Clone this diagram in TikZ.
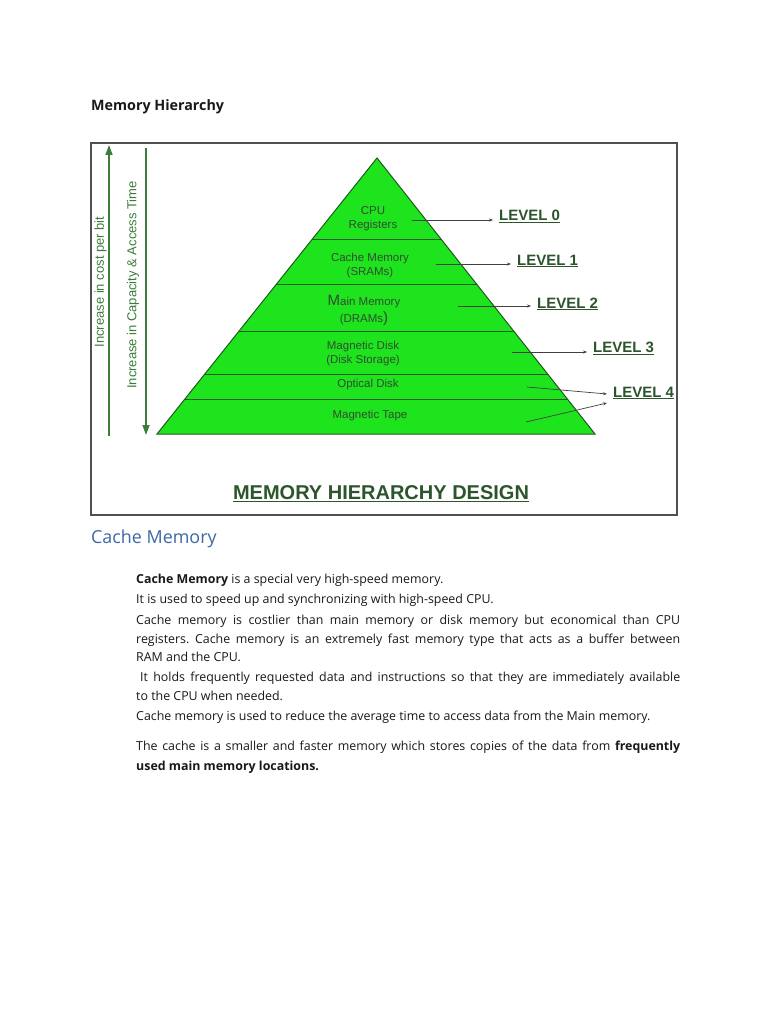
\documentclass[tikz,border=0pt]{standalone}
\usepackage{fontspec}
\setmainfont{Open Sans}
\newfontfamily\arialf{Liberation Sans}
\usetikzlibrary{arrows.meta}
\frenchspacing
\definecolor{pyrgreen}{RGB}{30,228,30}
\definecolor{pyredge}{RGB}{30,90,30}
\definecolor{lbltext}{RGB}{50,75,50}
\definecolor{lvlgreen}{RGB}{45,85,45}
\definecolor{axisgreen}{RGB}{60,125,60}
\definecolor{headblue}{RGB}{60,105,165}
\definecolor{framegray}{RGB}{80,80,80}
\definecolor{bodytext}{RGB}{25,25,25}
\tikzset{
  band/.style={font=\arialf\fontsize{11.5}{14}\selectfont, text=lbltext, align=center, inner sep=0pt},
  lvl/.style={font=\arialf\bfseries\fontsize{15}{18}\selectfont, text=lvlgreen, inner sep=0pt, anchor=west},
  lvlarrow/.style={draw=black!75, line width=0.7pt, -{Stealth[length=4pt,width=3pt]}},
  axisarrow/.style={draw=axisgreen, line width=1.5pt, -{Triangle[length=10pt,width=7pt]}},
  axislbl/.style={font=\arialf\fontsize{13}{15}\selectfont, text=axisgreen, rotate=90, inner sep=0pt},
  bodyline/.style={font=\fontsize{12.4}{15}\selectfont, text=bodytext, anchor=base west, inner sep=0pt},
}
\begin{document}
\begin{tikzpicture}[x=1pt,y=-1pt]
\useasboundingbox (0,0) rectangle (768,1024);
\fill[white] (0,0) rectangle (768,1024);

% heading
\node[font=\bfseries\fontsize{14.3}{17}\selectfont, text=bodytext, anchor=base west, inner sep=0pt] (head) at (91,111) {Memory Hierarchy};

% frame
\draw[framegray, line width=1.2pt] (91,143) rectangle (677,515);

% pyramid
\coordinate (apex) at (377,158);
\coordinate (bl) at (157,434);
\coordinate (br) at (595,434);
\fill[pyrgreen] (apex) -- (bl) -- (br) -- cycle;
\begin{scope}
\clip (apex) -- (bl) -- (br) -- cycle;
\foreach \yy in {239,284,331,374,399} {
  \draw[pyredge, line width=1pt] (150,\yy) -- (600,\yy);
}
\end{scope}
\draw[pyredge, line width=1pt, line join=miter] (apex) -- (bl) -- (br) -- cycle;

% band labels
\node[band] (cpu) at (373,219) {CPU\\Registers};
\node[band] (cache) at (370,266) {Cache Memory\\(SRAMs)};
\node[band, align=center] (main) at (364,310) {{\fontsize{15}{17}\selectfont M}ain Memory\\[3pt](DRAMs{\fontsize{15}{17}\selectfont )}};
\node[band] (disk) at (363,354) {Magnetic Disk\\(Disk Storage)};
\node[band] (optical) at (368,385) {Optical Disk};
\node[band] (tape) at (370,416) {Magnetic Tape};

% level labels
\node[lvl] (L0) at (499,216) {\underline{LEVEL 0}};
\node[lvl] (L1) at (517,261) {\underline{LEVEL 1}};
\node[lvl] (L2) at (537,304) {\underline{LEVEL 2}};
\node[lvl] (L3) at (593,348) {\underline{LEVEL 3}};
\node[lvl] (L4) at (613,393) {\underline{LEVEL 4}};

\coordinate (s0) at (412,220);
\coordinate (s1) at (436,264);
\coordinate (s2) at (458,306);
\coordinate (s3) at (512,352);
\coordinate (s4a) at (527,387);
\coordinate (s4b) at (526,422);
\coordinate (e4a) at (607,394);
\coordinate (e4b) at (607,403);
\draw[lvlarrow, shorten >=6pt] (s0) -- (L0.west |- s0);
\draw[lvlarrow, shorten >=6pt] (s1) -- (L1.west |- s1);
\draw[lvlarrow, shorten >=6pt] (s2) -- (L2.west |- s2);
\draw[lvlarrow, shorten >=6pt] (s3) -- (L3.west |- s3);
\draw[lvlarrow] (s4a) -- (e4a);
\draw[lvlarrow] (s4b) -- (e4b);

% axis arrows
\coordinate (upbot) at (109,436);
\coordinate (uptop) at (109,145);
\coordinate (dntop) at (146,148);
\coordinate (dnbot) at (146,435);
\draw[axisarrow] (upbot) -- (uptop);
\draw[axisarrow] (dntop) -- (dnbot);
\node[axislbl] (costlbl) at (100.5,282) {Increase in cost per bit};
\node[axislbl] (caplbl) at (133,285) {Increase in Capacity \& Access Time};

% title
\node[font=\arialf\bfseries\fontsize{20}{24}\selectfont, text=lvlgreen, inner sep=0pt] (title) at (381,494) {\underline{MEMORY HIERARCHY DESIGN}};

% Cache Memory section
\node[font=\fontsize{17.9}{21}\selectfont, text=headblue, anchor=base west, inner sep=0pt] (cmhead) at (91,543) {Cache Memory};

\node[bodyline] (b1) at (136,583) {\textbf{Cache Memory} is a special very high-speed memory.};
\node[bodyline] (b2) at (136,603) {It is used to speed up and synchronizing with high-speed CPU.};
\node[bodyline] (b3) at (136,624) {\makebox[544pt][s]{Cache memory is costlier than main memory or disk memory but economical than CPU}};
\node[bodyline] (b4) at (136,643) {\makebox[544pt][s]{registers. Cache memory is an extremely fast memory type that acts as a buffer between}};
\node[bodyline] (b5) at (136,661) {RAM and the CPU.};
\node[bodyline] (b6) at (140,681) {\makebox[540pt][s]{It holds frequently requested data and instructions so that they are immediately available}};
\node[bodyline] (b7) at (136,700) {to the CPU when needed.};
\node[bodyline] (b8) at (136,720) {Cache memory is used to reduce the average time to access data from the Main memory.};
\node[bodyline] (b9) at (136,750) {\makebox[544pt][s]{The cache is a smaller and faster memory which stores copies of the data from \textbf{frequently}}};
\node[bodyline] (b10) at (136,770) {\textbf{used main memory locations.}};
\end{tikzpicture}
\end{document}
